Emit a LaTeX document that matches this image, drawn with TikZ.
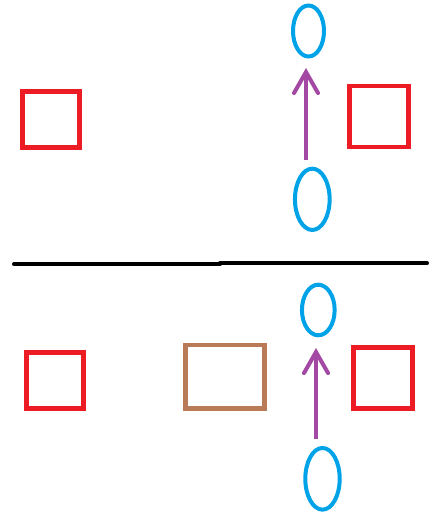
\documentclass[tikz,border=0pt]{standalone}
\usetikzlibrary{shapes.geometric,arrows.meta}
\definecolor{pred}{HTML}{ED1C24}
\definecolor{pblue}{HTML}{00A2E8}
\definecolor{ppurple}{HTML}{A349A4}
\definecolor{pbrown}{HTML}{B97A57}
\tikzset{
  redbox/.style={draw=pred,line width=4.5pt,rectangle,inner sep=0pt},
  brownbox/.style={draw=pbrown,line width=4.5pt,rectangle,inner sep=0pt},
  blueoval/.style={draw=pblue,line width=4pt,ellipse,inner sep=0pt},
  uparrow/.style={draw=ppurple,line width=4pt,-{Straight Barb[length=21pt,width=24pt,line cap=round]}},
  divider/.style={draw=black,line width=4pt,line cap=round}
}
\begin{document}
\begin{tikzpicture}[x=1pt,y=-1pt]
\useasboundingbox (0,0) rectangle (447,516);
% top half
\node[redbox,minimum width=57pt,minimum height=56.4pt] (r1) at (50.8,119.5) {};
\node[redbox,minimum width=59pt,minimum height=61pt] (r2) at (379,116.5) {};
\node[blueoval,minimum width=31pt,minimum height=51pt] (e1) at (308.5,31) {};
\node[blueoval,minimum width=34.7pt,minimum height=61.3pt] (e2) at (312.3,199.3) {};
\coordinate (a1s) at (306,160);
\coordinate (a1e) at (306,68);
\draw[uparrow] (a1s) -- (a1e);
% divider
\coordinate (d1) at (14,264.2);
\coordinate (d2) at (220,264.2);
\coordinate (d3) at (220,263.2);
\coordinate (d4) at (427,263.2);
\draw[divider] (d1) -- (d2);
\draw[divider] (d3) -- (d4);
% bottom half
\node[redbox,minimum width=57.4pt,minimum height=56.4pt] (r3) at (55,380.5) {};
\node[brownbox,minimum width=78.6pt,minimum height=63.3pt] (b1) at (225,376.7) {};
\node[redbox,minimum width=59.4pt,minimum height=61pt] (r4) at (383,377.8) {};
\node[blueoval,minimum width=32.7pt,minimum height=50.6pt] (e3) at (318.3,310) {};
\node[blueoval,minimum width=34.4pt,minimum height=61.7pt] (e4) at (322.5,478.8) {};
\coordinate (a2s) at (316,439);
\coordinate (a2e) at (316,348);
\draw[uparrow] (a2s) -- (a2e);
\end{tikzpicture}
\end{document}
